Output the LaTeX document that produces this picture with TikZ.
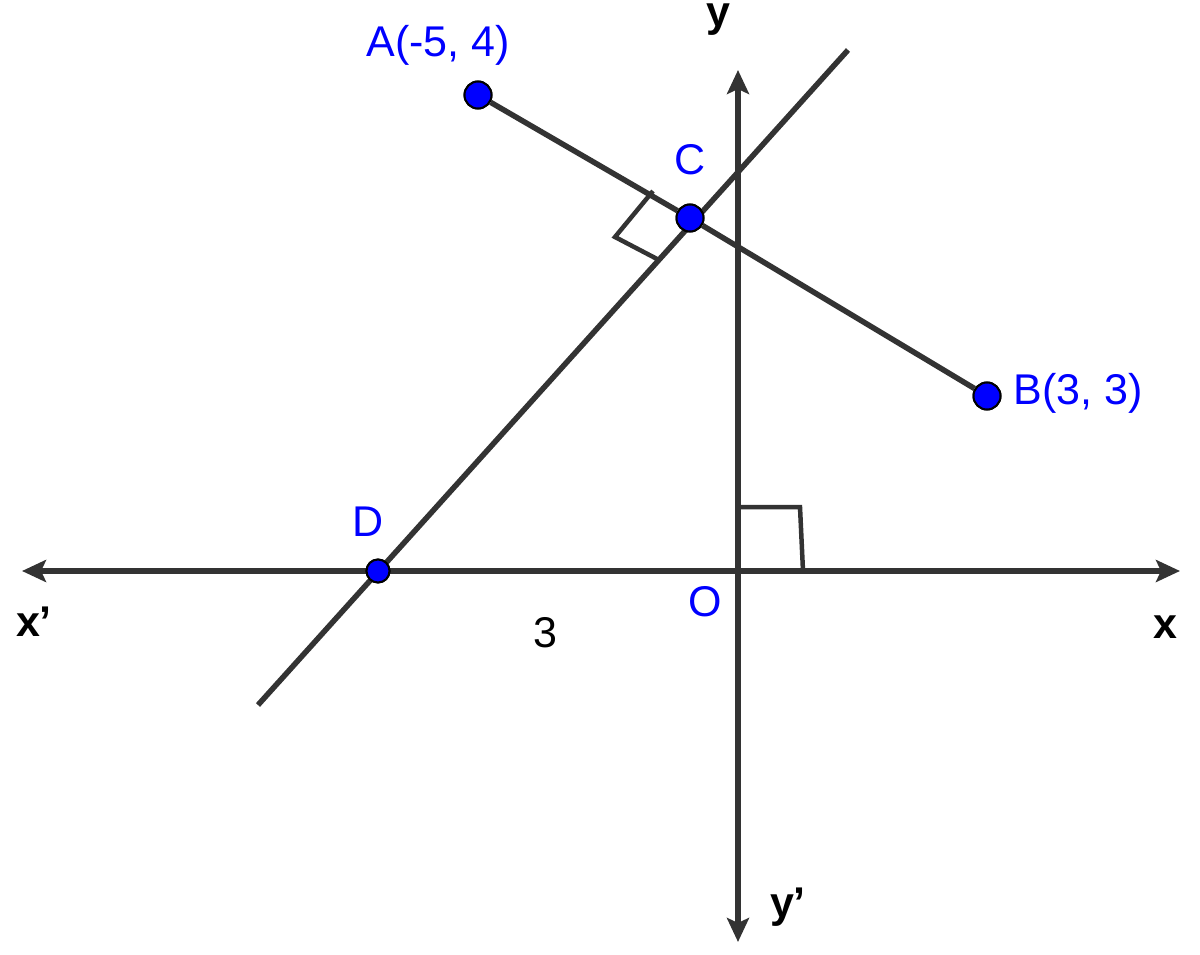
\documentclass[tikz,border=0pt]{standalone}
\usepackage{fontspec}
\setmainfont{Liberation Sans}
\usetikzlibrary{arrows.meta}
\begin{document}
\begin{tikzpicture}[x=1pt,y=-1pt,
  ln/.style={line width=5.5pt,draw=black!80},
  ax/.style={ln,{Stealth[length=24pt,width=22pt,inset=5pt]}-{Stealth[length=24pt,width=22pt,inset=5pt]}},
  pt/.style={circle,fill=blue,draw=black,line width=2pt,minimum size=27pt,inner sep=0pt},
  bl/.style={text=blue,font=\fontsize{43}{43}\selectfont},
  bk/.style={font=\fontsize{43}{43}\selectfont\bfseries},
  rm/.style={line width=4.5pt,draw=black!80}]
\useasboundingbox (0,0) rectangle (1200,955);
\coordinate (xl) at (22,571); \coordinate (xr) at (1180,571);
\coordinate (yt) at (738,70); \coordinate (yb) at (738,942);
\coordinate (L1) at (258,705); \coordinate (L2) at (848,50);
\draw[ax] (xl) -- (xr);
\draw[ax] (yt) -- (yb);
\draw[ln] (L1) -- (L2);
\node[pt] (A) at (478,95) {};
\node[pt] (C) at (690,218) {};
\node[pt] (B) at (987,396) {};
\node[pt,minimum size=23pt] (D) at (378,571) {};
\draw[ln] (A) -- (C) -- (B);
\draw[rm] (653,191) -- (615,237) -- (659,260);
\draw[rm] (738,507) -- (800,507) -- (803,571);
\node[pt] at (A) {}; \node[pt] at (C) {}; \node[pt] at (B) {}; \node[pt,minimum size=23pt] at (D) {};
\node[bl] (lA) at (438,45) {A(-5, 4)};
\node[bl] (lC) at (690,160) {C};
\node[bl] (lB) at (1078,393) {B(3, 3)};
\node[bl] (lD) at (368,522) {D};
\node[bl] (lO) at (705,602) {O};
\node[font=\fontsize{43}{43}\selectfont] (l3) at (545,633) {3};
\node[bk] (lx1) at (34,622) {x{\char"27}};
\node[bk] (lx) at (1165,627) {x};
\node[bk,anchor=north] (ly) at (718,0) {y};
\node[bk] (ly1) at (788,907) {y{\char"27}};
\end{tikzpicture}
\end{document}
